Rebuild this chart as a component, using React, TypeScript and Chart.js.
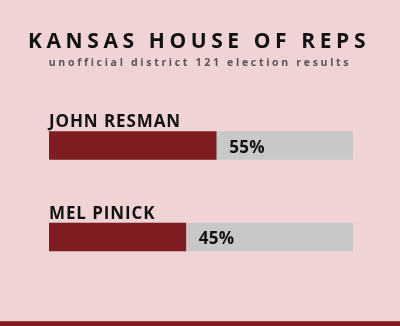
import React, { useEffect, useRef } from "react";
import { Chart, registerables } from "chart.js";

Chart.register(...registerables);

const candidates = ["JOHN RESMAN", "MEL PINICK"];
const votePercent = [55, 45];
const trackMax = [100, 100];
const titleText = "KANSAS HOUSE OF REPS";
const subtitleText = "unofficial district 121 election results";

const BG = "#f0d3d4";
const RED = "#7e1d22";
const GRAY = "#c8c8c8";
const FONT = "'Open Sans', Lato, sans-serif";

const decorPlugin = {
  id: "decor",
  beforeDraw(chart: any) {
    const ctx = chart.ctx as CanvasRenderingContext2D;
    ctx.save();
    ctx.fillStyle = BG;
    ctx.fillRect(0, 0, chart.width, chart.height);
    ctx.restore();
  },
  afterDraw(chart: any) {
    const ctx = chart.ctx as any;
    ctx.save();
    // title
    ctx.fillStyle = "#111";
    ctx.font = `bold 21px ${FONT}`;
    ctx.letterSpacing = "4.6px";
    ctx.textAlign = "center";
    ctx.textBaseline = "alphabetic";
    ctx.fillText(titleText, 199, 48);
    // subtitle
    ctx.fillStyle = "#555";
    ctx.font = `bold 10.5px ${FONT}`;
    ctx.letterSpacing = "2.7px";
    ctx.fillText(subtitleText, 200, 66);

    const meta = chart.getDatasetMeta(1);
    meta.data.forEach((bar: any, i: number) => {
      const top = bar.y - bar.height / 2;
      ctx.fillStyle = "#111";
      ctx.font = `bold 17px ${FONT}`;
      ctx.textAlign = "left";
      ctx.textBaseline = "alphabetic";
      ctx.letterSpacing = "0.9px";
      ctx.fillText(candidates[i], chart.chartArea.left, top - 4.5);
      ctx.letterSpacing = "0.3px";
      ctx.fillText(votePercent[i] + "%", bar.x + 13, bar.y + 7);
    });
    ctx.letterSpacing = "0px";

    // bottom strip
    ctx.fillStyle = RED;
    ctx.fillRect(0, 321, chart.width, 5);
    ctx.fillStyle = "rgba(200,90,95,0.5)";
    ctx.fillRect(0, 321, chart.width, 1);
    ctx.restore();
  },
};

export default function App() {
  const ref = useRef<HTMLCanvasElement>(null);
  useEffect(() => {
    if (!ref.current) return;
    const chart = new Chart(ref.current, {
      type: "bar",
      data: {
        labels: candidates,
        datasets: [
          {
            data: trackMax,
            backgroundColor: GRAY,
            barThickness: 28,
            grouped: false,
            order: 2,
          } as any,
          {
            data: votePercent,
            backgroundColor: RED,
            barThickness: 28,
            grouped: false,
            order: 1,
          } as any,
        ],
      },
      options: {
        indexAxis: "y",
        responsive: false,
        animation: false,
        devicePixelRatio: 1,
        layout: { padding: { left: 49, right: 47, top: 99.75, bottom: 43.25 } },
        scales: {
          x: { display: false, min: 0, max: 100 },
          y: { display: false, offset: true },
        },
        plugins: {
          legend: { display: false },
          title: { display: false },
          tooltip: { enabled: false },
        },
      },
      plugins: [decorPlugin],
    });
    return () => chart.destroy();
  }, []);
  return (
    <div style={{ position: "absolute", left: 0, top: 0, width: 400, height: 326, background: BG }}>
      <canvas ref={ref} width={400} height={326} style={{ display: "block" }} />
    </div>
  );
}
